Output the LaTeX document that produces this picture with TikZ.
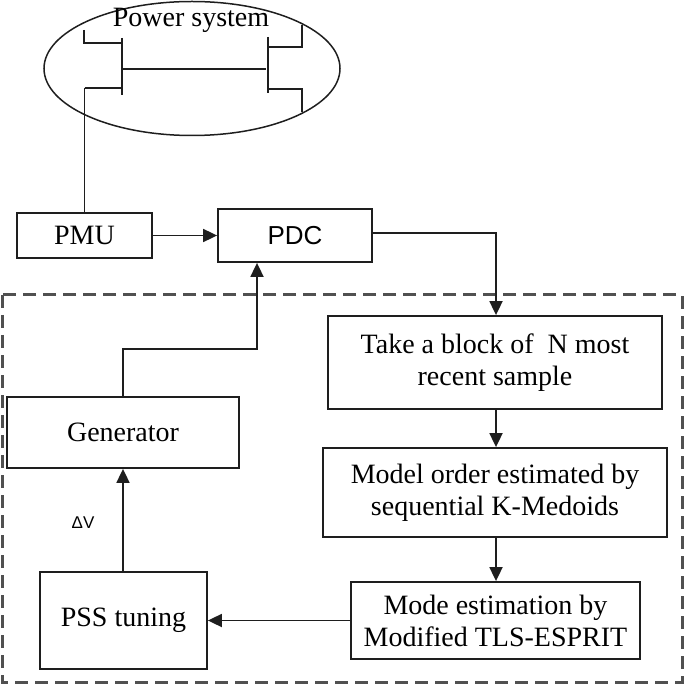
\documentclass[tikz,border=0pt]{standalone}
\usepackage{fontspec}
\setmainfont{Liberation Serif}
\newfontfamily\arialfont{Liberation Sans}
\usetikzlibrary{arrows.meta,shapes.geometric}
\definecolor{ln}{RGB}{30,30,30}
\definecolor{dsh}{RGB}{80,80,80}
\begin{document}
\begin{tikzpicture}[x=1pt,y=-1pt,
  blk/.style={draw=ln,line width=1.8pt,rectangle,inner sep=0pt,align=center,
    font=\fontsize{28}{32}\selectfont},
  wire/.style={draw=ln,line width=1.8pt},
  arr/.style={wire,-{Triangle[length=14pt,width=13pt]}},
  dashbox/.style={draw=dsh,line width=3pt,dash pattern=on 13pt off 7pt}]
\useasboundingbox (0,0) rectangle (685,684);
% power system
\node[draw=ln,line width=1.5pt,ellipse,minimum width=296pt,minimum height=134pt,inner sep=0pt] (ps) at (192,68.5) {};
\node[font=\fontsize{28}{32}\selectfont,inner sep=0pt] (pstext) at (191,20) {Power system};
\draw[wire] (84,30) -- (84,43) -- (122,43);
\draw[wire] (122,38) -- (122,95);
\draw[wire] (122,69) -- (266,69);
\draw[wire] (268,37) -- (268,93);
\draw[wire] (268,47) -- (302,47) -- (302,25);
\draw[wire] (268,89) -- (302,89) -- (302,112);
% blocks
\node[blk,minimum width=135pt,minimum height=45pt] (pmu) at (84.5,235.5) {PMU};
\node[blk,minimum width=154pt,minimum height=53pt,font=\arialfont\fontsize{26}{30}\selectfont] (pdc) at (295,235.5) {PDC};
\node[blk,minimum width=334pt,minimum height=93pt] (take) at (495,362.5) {Take a block of\ \ N most\\recent sample};
\node[blk,minimum width=344pt,minimum height=89pt] (model) at (495,492.5) {Model order estimated by\\sequential K-Medoids};
\node[blk,minimum width=289pt,minimum height=77pt] (mode) at (495.5,620.5) {Mode estimation by\\Modified TLS-ESPRIT};
\node[blk,minimum width=232pt,minimum height=71pt] (gen) at (123,432.5) {Generator};
\node[blk,minimum width=167pt,minimum height=97pt] (pss) at (123.5,620.5) {PSS tuning};
\node[font=\arialfont\fontsize{17}{20}\selectfont,inner sep=0pt] (dv) at (83,523) {ΔV};
% dashed region
\draw[dashbox] (2,295) rectangle (682,682);
% connectors
\draw[wire] (84.5,88) -- (122,88);
\draw[wire] (84.5,88) -- (pmu.north);
\draw[arr] (pmu.east) -- (pdc.west |- pmu.east);
\coordinate (c1) at (496,233);
\draw[arr] (pdc.east |- c1) -- (c1) -- (take.north -| c1);
\draw[arr] (take.south -| c1) -- (model.north -| c1);
\draw[arr] (model.south -| c1) -- (mode.north -| c1);
\draw[arr] (mode.west) -- (pss.east);
\draw[arr] (pss.north -| gen.north) -- (gen.south);
\coordinate (c2) at (257,349);
\draw[arr] (gen.north) |- (c2) -- (pdc.south -| c2);
\end{tikzpicture}
\end{document}
